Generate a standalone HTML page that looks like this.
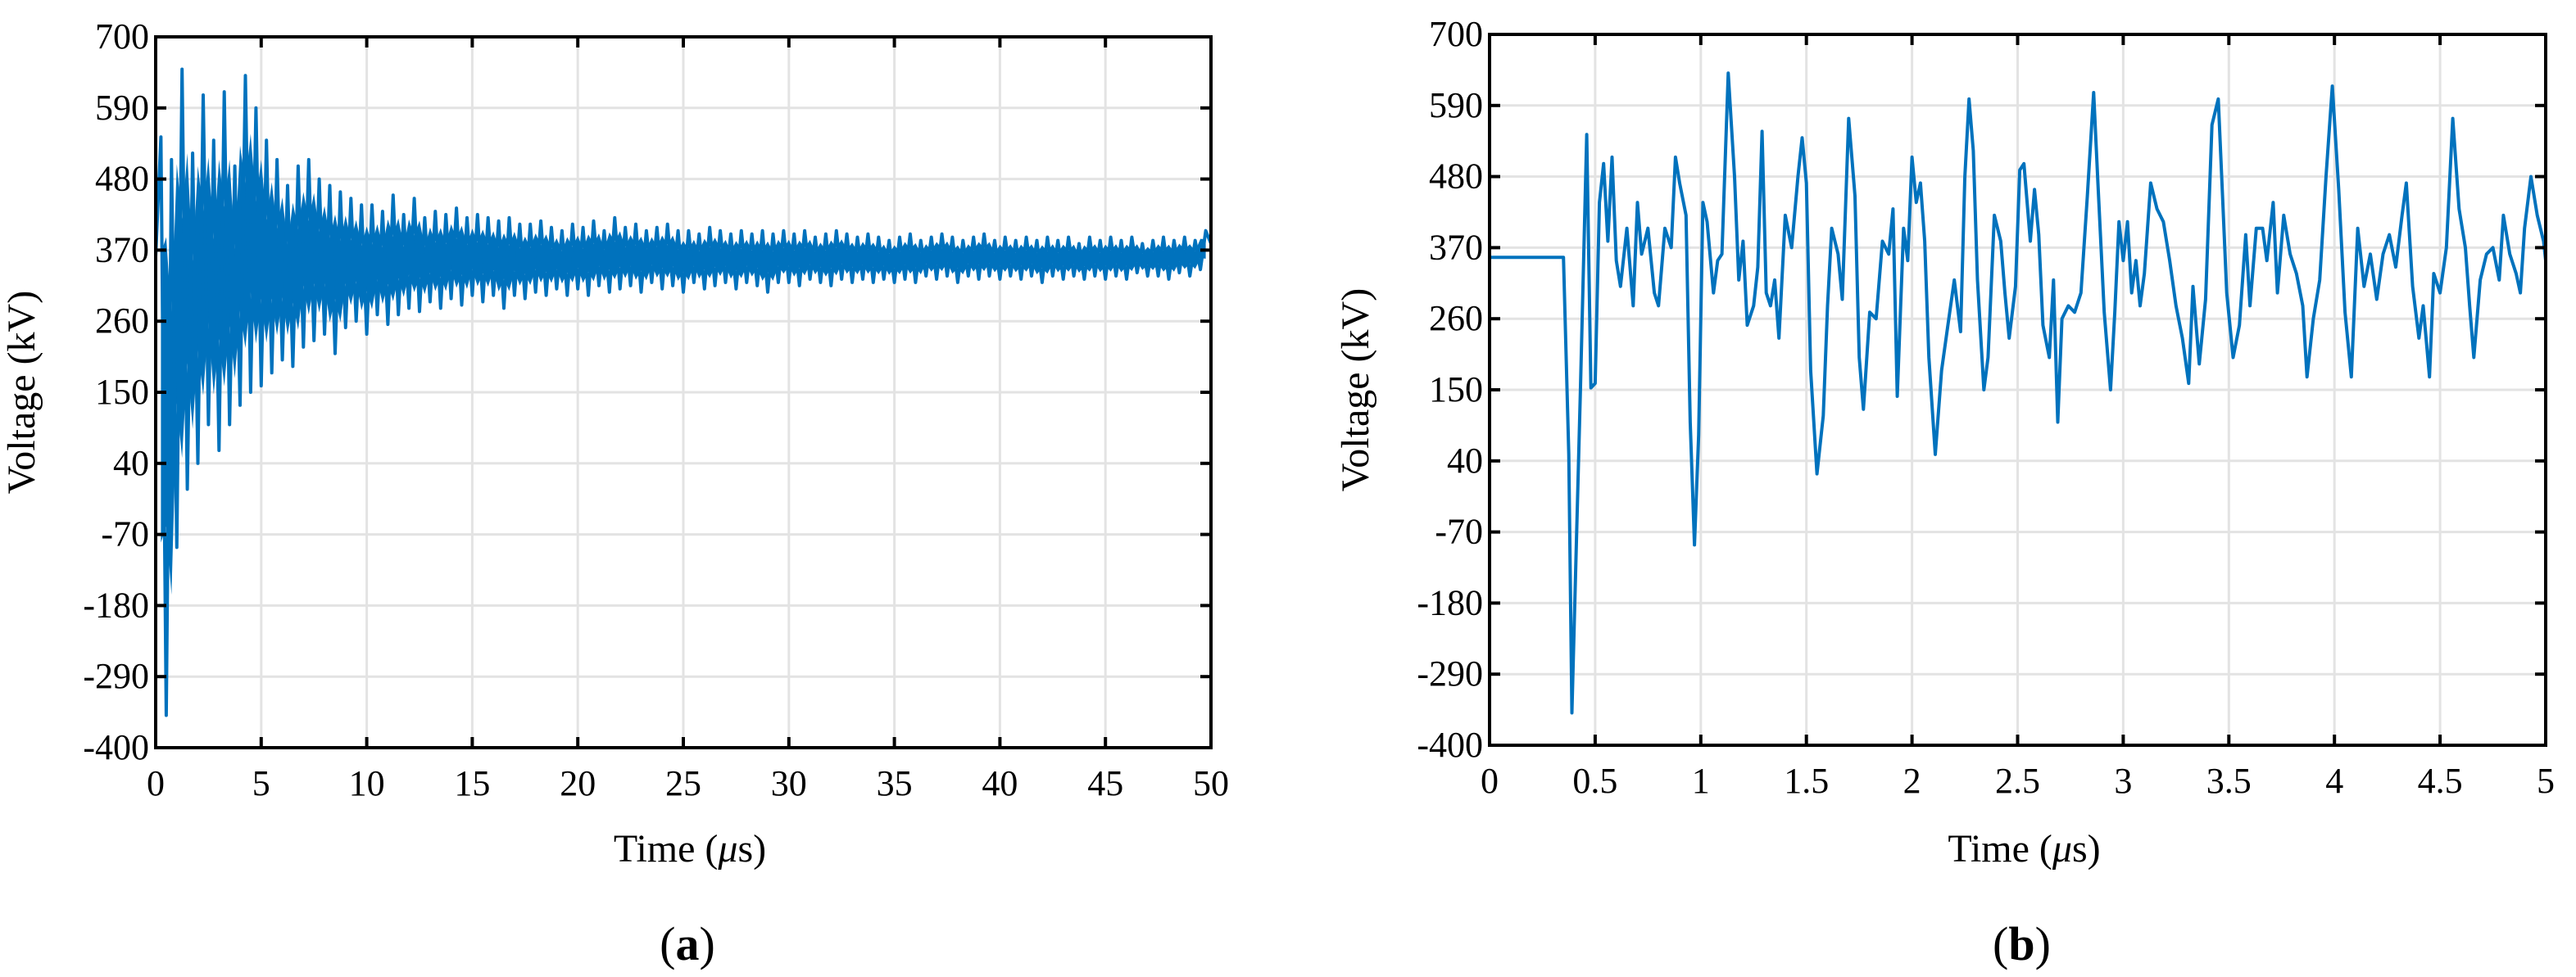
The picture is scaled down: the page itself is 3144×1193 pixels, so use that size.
<!DOCTYPE html>
<html><head><meta charset="utf-8">
<style>
html,body{margin:0;padding:0;background:#fff;}
svg{display:block;font-family:"Liberation Serif",serif;}
</style></head>
<body>
<svg id="fig" width="3144" height="1193" viewBox="0 0 3144 1193"></svg>
<script>
// ---- data ----
const yTicks = [-400,-290,-180,-70,40,150,260,370,480,590,700];
const xTicksA = [0,5,10,15,20,25,30,35,40,45,50];
const xTicksB = [0,0.5,1,1.5,2,2.5,3,3.5,4,4.5,5];
const xTickLabelsB = ["0","0.5","1","1.5","2","2.5","3","3.5","4","4.5","5"];
const dtA = 0.25;
const voltageA = [
360,545,-350,510,-90,650,0,520,40,610,
100,540,60,615,100,500,130,640,150,590,
160,540,180,510,200,470,190,500,220,510,
230,480,240,470,210,460,250,450,260,440,
240,440,270,430,255,455,270,425,280,450,
275,420,290,430,280,425,295,435,285,420,
300,425,290,420,300,415,280,420,300,410,
295,410,305,415,300,405,310,400,300,410,
310,405,300,415,315,400,305,420,310,405,
315,410,305,400,320,405,310,410,315,400,
305,400,320,395,310,405,315,400,320,395,
310,400,320,395,315,400,305,395,320,400,
320,395,315,400,325,390,320,395,315,400,
325,395,320,390,325,395,320,390,325,385,
320,390,325,395,320,385,330,390,325,395,
330,390,320,385,330,390,325,395,330,385,
325,390,330,385,325,390,330,385,320,390,
330,385,325,390,330,380,325,390,330,385,
325,390,330,385,325,390,335,380,330,385,
330,390,325,385,335,390,330,385,340,400,380];
const timeB = [0,0.35,0.375,0.39,0.41,0.43,0.46,0.48,0.5,0.52,0.54,0.56,0.58,0.6,0.62,0.65,0.68,0.7,0.72,0.75,0.78,0.8,0.83,0.86,0.88,0.9,0.93,0.95,0.97,0.99,1.01,1.03,1.06,1.08,1.1,1.13,1.16,1.18,1.2,1.22,1.25,1.27,1.29,1.31,1.33,1.35,1.37,1.4,1.43,1.46,1.48,1.5,1.52,1.55,1.58,1.6,1.62,1.65,1.67,1.7,1.73,1.75,1.77,1.8,1.83,1.86,1.89,1.91,1.93,1.96,1.98,2.0,2.02,2.04,2.06,2.08,2.11,2.14,2.17,2.2,2.23,2.25,2.27,2.29,2.31,2.34,2.36,2.39,2.42,2.44,2.46,2.49,2.51,2.53,2.56,2.58,2.6,2.62,2.65,2.67,2.69,2.71,2.74,2.77,2.8,2.83,2.86,2.88,2.91,2.94,2.96,2.98,3.0,3.02,3.04,3.06,3.08,3.1,3.13,3.16,3.19,3.22,3.25,3.28,3.31,3.33,3.36,3.39,3.42,3.45,3.47,3.49,3.52,3.55,3.58,3.6,3.63,3.66,3.68,3.71,3.73,3.76,3.79,3.82,3.85,3.87,3.9,3.93,3.96,3.99,4.02,4.05,4.08,4.11,4.14,4.17,4.2,4.23,4.26,4.29,4.32,4.34,4.37,4.4,4.42,4.45,4.47,4.5,4.53,4.56,4.59,4.62,4.64,4.66,4.69,4.72,4.75,4.78,4.8,4.83,4.86,4.88,4.9,4.93,4.96,4.99,5.0];
const voltageB = [355,355,50,-350,-100,150,545,153,160,440,500,380,510,350,310,400,280,440,360,400,300,280,400,370,510,470,420,100,-90,80,440,410,300,350,360,640,480,320,380,250,280,340,550,300,280,320,230,420,370,480,540,470,180,20,110,280,400,360,290,570,450,200,120,270,260,380,360,430,140,400,350,510,440,470,380,200,50,180,250,320,240,480,600,520,320,150,200,420,380,300,230,310,490,500,380,460,390,250,200,320,100,260,280,270,300,450,610,470,270,150,270,410,350,410,300,350,280,330,470,430,410,350,280,230,160,310,190,290,560,600,450,300,200,250,390,280,400,400,350,440,300,420,360,330,280,170,260,320,480,620,460,270,170,400,310,360,290,360,390,340,420,470,310,230,280,170,330,300,370,570,430,370,280,200,320,360,370,320,420,360,330,300,400,480,420,380,350];

const NS = "http://www.w3.org/2000/svg";
const svg = document.getElementById('fig');
function mk(tag, attrs, parent){
  const e = document.createElementNS(NS, tag);
  for (const k in attrs) e.setAttribute(k, attrs[k]);
  (parent||svg).appendChild(e);
  return e;
}

function drawPanel(P){
  const g = mk('g', {});
  
  
  const xs = v => P.x0 + (v - P.xmin)/(P.xmax - P.xmin)*(P.x1 - P.x0);
  const ys = v => P.y1 - (v - (-400))/1100*(P.y1 - P.y0);
  P.xt.forEach((t,i)=>{
    if(i===0||i===P.xt.length-1) return;
    const l = mk('line',{x1:xs(t),x2:xs(t),y1:P.y0,y2:P.y1,stroke:'#e3e3e3','stroke-width':3},g);
    
    
  });
  yTicks.forEach((t,i)=>{
    if(i===0||i===yTicks.length-1) return;
    const l = mk('line',{x1:P.x0,x2:P.x1,y1:ys(t),y2:ys(t),stroke:'#e3e3e3','stroke-width':3},g);
    
    
  });
  const tAt = i => P.times ? P.times[i] : i*P.dt;
  if (P.band){
    const hi=[], lo=[];
    for (let i=1;i<P.vals.length-1;i++){
      const a=P.vals[i-1], b=P.vals[i], c=P.vals[i+1];
      const mean=(a+b+c)/3;
      const top=Math.max(a,b,c), bot=Math.min(a,b,c);
      const t=tAt(i);
      hi.push([xs(t), ys(mean+(top-mean)*0.5)]);
      lo.push([xs(t), ys(mean+(bot-mean)*0.5)]);
    }
    let bd='M'+hi.map(p=>p[0].toFixed(1)+','+p[1].toFixed(1)).join('L');
    bd+='L'+lo.reverse().map(p=>p[0].toFixed(1)+','+p[1].toFixed(1)).join('L')+'Z';
    const band = mk('path',{d:bd,fill:'#0072BD',stroke:'none'},g);
    
    
  }
  let d = '';
  for (let i=0;i<P.vals.length;i++){
    d += (i?'L':'M') + xs(tAt(i)).toFixed(1) + ',' + ys(P.vals[i]).toFixed(1);
  }
  const path = mk('path',{d:d,fill:'none',stroke:'#0072BD','stroke-width':P.sw,'stroke-linejoin':'round'},g);
  
  
  P.xt.forEach((t,i)=>{
    mk('line',{x1:xs(t),x2:xs(t),y1:P.y1,y2:P.y1-13,stroke:'#000','stroke-width':4},g);
    mk('line',{x1:xs(t),x2:xs(t),y1:P.y0,y2:P.y0+13,stroke:'#000','stroke-width':4},g);
    const tx = mk('text',{x:xs(t),y:P.y1+58,'font-size':44,'text-anchor':'middle',fill:'#000'},g);
    tx.textContent = P.xl ? P.xl[i] : String(t);
    
    
  });
  yTicks.forEach(t=>{
    mk('line',{x1:P.x0,x2:P.x0+13,y1:ys(t),y2:ys(t),stroke:'#000','stroke-width':4},g);
    mk('line',{x1:P.x1,x2:P.x1-13,y1:ys(t),y2:ys(t),stroke:'#000','stroke-width':4},g);
    const tx = mk('text',{x:P.x0-8,y:ys(t)+14,'font-size':44,'text-anchor':'end',fill:'#000'},g);
    tx.textContent = String(t);
    
    
  });
  const box = mk('rect',{x:P.x0,y:P.y0,width:P.x1-P.x0,height:P.y1-P.y0,fill:'none',stroke:'#000','stroke-width':4},g);
  
  
  const cx = (P.x0+P.x1)/2;
  const xt = mk('text',{x:cx+8,y:1052,'font-size':48,'text-anchor':'middle',fill:'#000'},g);
  xt.innerHTML = 'Time (<tspan font-style="italic">μ</tspan>s)';
  
  
  const yc = (P.y0+P.y1)/2;
  const yx = P.x0-148;
  const yt = mk('text',{x:yx,y:yc,'font-size':48,'text-anchor':'middle',fill:'#000',transform:`rotate(-90 ${yx} ${yc})`},g);
  yt.textContent = 'Voltage (kV)';
  
  
  const cap = mk('text',{x:cx+5,y:1172,'font-size':58,'text-anchor':'middle',fill:'#000'},g);
  cap.innerHTML = '(<tspan font-weight="bold">'+P.label+'</tspan>)';
  
  
}

drawPanel({name:'panel-a-chart',x0:190,x1:1478,y0:45,y1:913,xmin:0,xmax:50,xt:xTicksA,vals:voltageA,dt:dtA,sw:4,label:'a',band:true});
drawPanel({name:'panel-b-chart',x0:1818,x1:3107,y0:42,y1:910,xmin:0,xmax:5,xt:xTicksB,xl:xTickLabelsB,vals:voltageB,times:timeB,sw:4,label:'b'});
</script>
</body></html>
